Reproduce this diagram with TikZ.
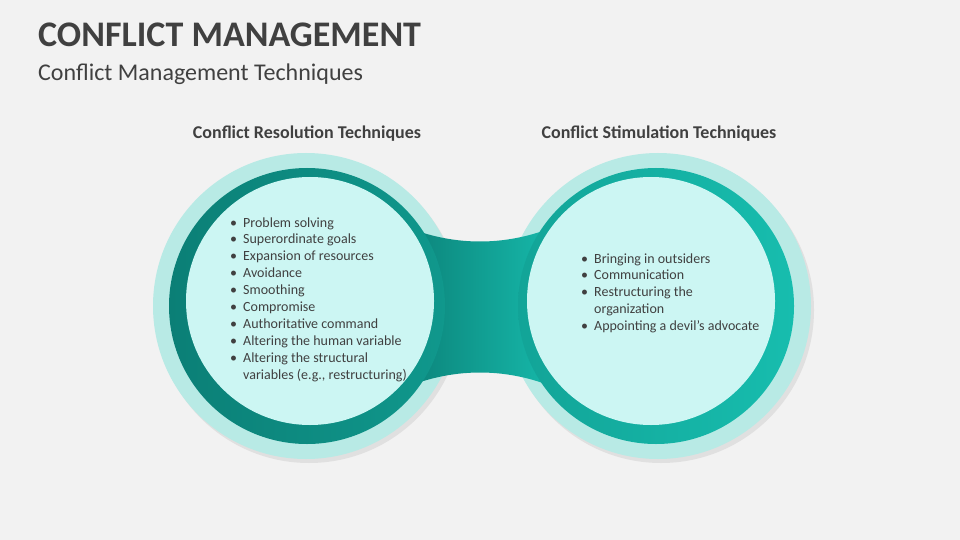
\documentclass[tikz,border=0pt]{standalone}
\usepackage{fontspec}
\setmainfont{Carlito}
\definecolor{bg}{HTML}{F2F2F2}
\definecolor{lightring}{HTML}{B8EAE5}
\definecolor{darkA}{HTML}{0B7F76}
\definecolor{darkB}{HTML}{17BDAE}
\definecolor{innerfill}{HTML}{CCF6F3}
\definecolor{titlegray}{HTML}{404040}
\tikzset{
  listtext/.style={anchor=north west, align=left, font=\fontsize{14}{16.9}\selectfont, text=titlegray, inner sep=0pt},
  headtext/.style={font=\bfseries\fontsize{18}{20}\selectfont, text=titlegray},
}
\begin{document}
\begin{tikzpicture}[x=1pt,y=-1pt]
\fill[bg] (0,0) rectangle (960,540);
\useasboundingbox (0,0) rectangle (960,540);
\node[anchor=west, inner sep=0pt, font=\bfseries\fontsize{36}{38}\selectfont, text=titlegray] (title) at (38,35) {CONFLICT MANAGEMENT};
\node[anchor=west, inner sep=0pt, font=\fontsize{24}{26}\selectfont, text=titlegray] (sub) at (38,74) {Conflict Management Techniques};
% shadows
\fill[black!12] (309,310) circle (153);
\fill[black!12] (661,310) circle (153);
% light rings
\fill[lightring] (306,306) circle (153);
\fill[lightring] (658,306) circle (153);
% connector
\shade[left color=darkA, right color=darkB]
 (395,222) .. controls (450,248) and (510,248) .. (565,222) -- (565,392)
 .. controls (510,366) and (450,366) .. (395,392) -- cycle;
% dark rings
\shade[left color=darkA, right color=darkA!60!darkB] (307,306) circle (138);
\shade[left color=darkA!40!darkB, right color=darkB] (656,306) circle (138);
% inner
\fill[innerfill] (310,301) circle (124);
\fill[innerfill] (651,301) circle (124);
\node[headtext] (lh) at (307,134) {Conflict Resolution Techniques};
\node[headtext] (rh) at (659,134) {Conflict Stimulation Techniques};
\node[listtext] (ll) at (230,215) {%
\begin{tabular}{@{}l@{\hspace{6pt}}l@{}}
\textbullet & Problem solving\\
\textbullet & Superordinate goals\\
\textbullet & Expansion of resources\\
\textbullet & Avoidance\\
\textbullet & Smoothing\\
\textbullet & Compromise\\
\textbullet & Authoritative command\\
\textbullet & Altering the human variable\\
\textbullet & Altering the structural\\
 & variables (e.g., restructuring)
\end{tabular}};
\node[listtext] (rl) at (581,251) {%
\begin{tabular}{@{}l@{\hspace{6pt}}l@{}}
\textbullet & Bringing in outsiders\\
\textbullet & Communication\\
\textbullet & Restructuring the\\
 & organization\\
\textbullet & Appointing a devil’s advocate
\end{tabular}};
\end{tikzpicture}
\end{document}
